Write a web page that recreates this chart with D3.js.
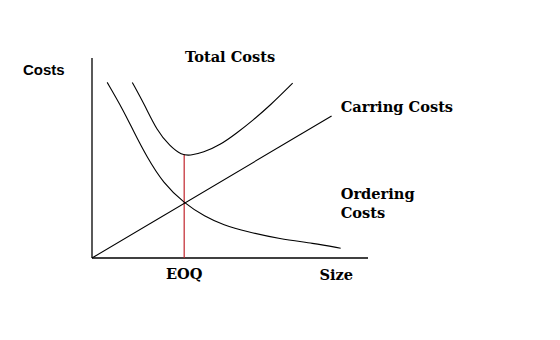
<!DOCTYPE html>
<meta charset="UTF-8">
<style>
body { margin: 0; background: #fff; }
.curve { fill: none; stroke: #000; stroke-width: 1.1px; }
.axis { stroke: #000; stroke-width: 1.3px; }
.lbl { font-family: "DejaVu Serif", serif; font-weight: bold; font-size: 14.6px; fill: #000; }
.ylbl { font-family: "Liberation Sans", Arial, sans-serif; font-weight: bold; font-size: 15px; fill: #000; }
</style>
<body>
<script src="https://d3js.org/d3.v7.min.js"></script>
<script>

// values (size, cost), axes run 0..100
var orderingX = [5.5, 11.3, 15.0, 19.8, 25.8, 33.4, 40.9, 47.6, 56.0, 68.1, 80.2, 90.1];
var orderingY = [87.8, 74.0, 63.5, 50.7, 37.4, 27.4, 20.7, 16.5, 13.2, 9.5, 7.4, 4.9];

var carryingX = [0, 86.8];
var carryingY = [0, 71.0];

var totalX = [14.6, 19.2, 23.4, 28.3, 32.5, 35.5, 40.3, 46.4, 52.4, 58.4, 64.5, 72.7];
var totalY = [87.8, 76.2, 64.0, 55.7, 51.5, 51.2, 52.7, 56.5, 62.4, 69.0, 76.2, 87.4];

var eoqX = 33.4;
var eoqTop = 52;

var labels = ["Total Costs", "Carring Costs", "Ordering", "Costs", "EOQ", "Size", "Costs"];

var width = 560, height = 340;
var margin = {top: 58, right: 192, bottom: 82, left: 92};

var svg = d3.select("body").append("svg")
    .attr("width", width)
    .attr("height", height);

var x = d3.scaleLinear().domain([0, 100]).range([margin.left, width - margin.right]);
var y = d3.scaleLinear().domain([0, 100]).range([height - margin.bottom, margin.top]);

function zip(xs, ys) { return xs.map(function(v, i) { return [v, ys[i]]; }); }

var line = d3.line()
    .x(function(d) { return x(d[0]); })
    .y(function(d) { return y(d[1]); })
    .curve(d3.curveBasis);

// axes (plain lines, no ticks)
svg.append("line").attr("class", "axis")
    .attr("x1", x(0)).attr("x2", x(0))
    .attr("y1", y(0)).attr("y2", y(100));
svg.append("line").attr("class", "axis")
    .attr("x1", x(0)).attr("x2", x(100))
    .attr("y1", y(0)).attr("y2", y(0));

// EOQ marker
svg.append("line")
    .attr("x1", x(eoqX)).attr("x2", x(eoqX))
    .attr("y1", y(0)).attr("y2", y(eoqTop))
    .attr("stroke", "#c0242c").attr("stroke-width", 1.2);

svg.append("path").attr("class", "curve").attr("d", line(zip(carryingX, carryingY)));
svg.append("path").attr("class", "curve").attr("d", line(zip(orderingX, orderingY)));
svg.append("path").attr("class", "curve").attr("d", line(zip(totalX, totalY)));

// labels
svg.append("text").attr("class", "lbl")
    .attr("x", x(33.7)).attr("y", y(98.2)).text(labels[0]);
svg.append("text").attr("class", "lbl")
    .attr("x", x(90.1)).attr("y", y(73.2)).text(labels[1]);
svg.append("text").attr("class", "lbl")
    .attr("x", x(90.1)).attr("y", y(29.4)).text(labels[2]);
svg.append("text").attr("class", "lbl")
    .attr("x", x(90.1)).attr("y", y(19.9)).text(labels[3]);
svg.append("text").attr("class", "lbl")
    .attr("x", x(eoqX)).attr("y", y(0) + 21)
    .attr("text-anchor", "middle").text(labels[4]);
svg.append("text").attr("class", "lbl")
    .attr("x", x(88.5)).attr("y", y(0) + 22)
    .attr("text-anchor", "middle").text(labels[5]);
svg.append("text").attr("class", "ylbl")
    .attr("x", x(0) - 69).attr("y", y(91.5)).text(labels[6]);

</script>
</body>
